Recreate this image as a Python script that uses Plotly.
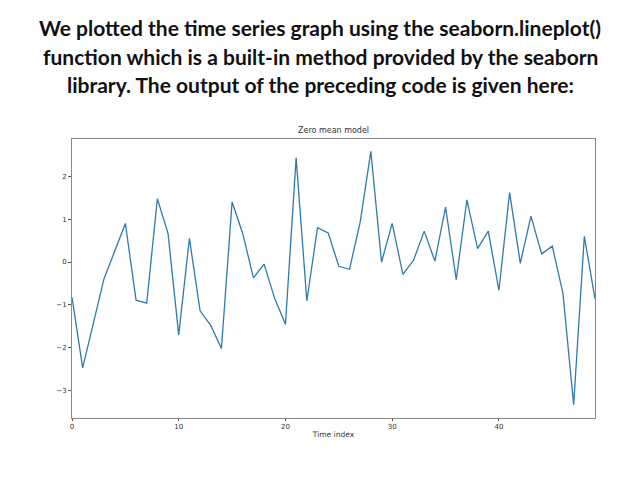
import plotly.graph_objects as go

# valores (índice de tempo 0..49)
time_index = list(range(50))
values = [-0.82, -2.47, -1.43, -0.39, 0.25, 0.90, -0.89, -0.96, 1.48, 0.66,
          -1.70, 0.55, -1.14, -1.48, -2.02, 1.40, 0.66, -0.37, -0.05, -0.86,
          -1.45, 2.43, -0.91, 0.80, 0.68, -0.10, -0.17, 0.93, 2.58, 0.00,
          0.90, -0.29, 0.04, 0.72, 0.02, 1.28, -0.41, 1.45, 0.31, 0.72,
          -0.66, 1.62, -0.03, 1.07, 0.19, 0.37, -0.74, -3.33, 0.60, -0.86]
x_ticks = [0, 10, 20, 30, 40]
y_ticks = [-3, -2, -1, 0, 1, 2]

heading = ["We plotted the time series graph using the seaborn.lineplot()",
           "function which is a built-in method provided by the seaborn",
           "library. The output of the preceding code is given here:"]

fig = go.Figure()
fig.add_trace(go.Scatter(x=time_index, y=values, mode="lines",
                         line=dict(color="#2f7bab", width=1.3)))

# texto do slide acima do gráfico (posições em pixels da janela)
plot_left, plot_right = 72, 595
plot_top, plot_bottom = 139, 418
def paper_y(px):
    return (plot_bottom - px) / (plot_bottom - plot_top)
def paper_x(px):
    return (px - plot_left) / (plot_right - plot_left)

for i, line in enumerate(heading):
    fig.add_annotation(text="<b>" + line + "</b>", x=paper_x(320), xref="paper",
                       y=paper_y(28 + i * 28.5), yref="paper", showarrow=False,
                       xanchor="center", yanchor="middle",
                       font=dict(family="Lato", size=21, color="#111111"))

fig.add_annotation(text="Zero mean model", x=0.5, xref="paper", y=paper_y(131),
                   yref="paper", showarrow=False, yanchor="middle",
                   font=dict(family="DejaVu Sans", size=8, color="#333333"))

# a página tem 8px de margem no body, por isso a figura é um pouco menor
fig.update_layout(
    width=622, height=462,
    margin=dict(l=64, r=35, t=131, b=52),
    paper_bgcolor="white", plot_bgcolor="white",
    showlegend=False,
    font=dict(family="DejaVu Sans", size=7, color="#333333"),
)
fig.update_xaxes(range=[0, 49], tickvals=x_ticks, ticks="outside", ticklen=2,
                 tickcolor="#555555", showgrid=False, zeroline=False,
                 showline=True, linecolor="#888888", linewidth=1, mirror=True,
                 title=dict(text="Time index", font=dict(size=7.5), standoff=1))
fig.update_yaxes(range=[-3.64, 2.87], tickvals=y_ticks, ticks="outside", ticklen=3,
                 tickcolor="#555555", showgrid=False, zeroline=False,
                 showline=True, linecolor="#888888", linewidth=1, mirror=True)

fig.write_html("out.html")
